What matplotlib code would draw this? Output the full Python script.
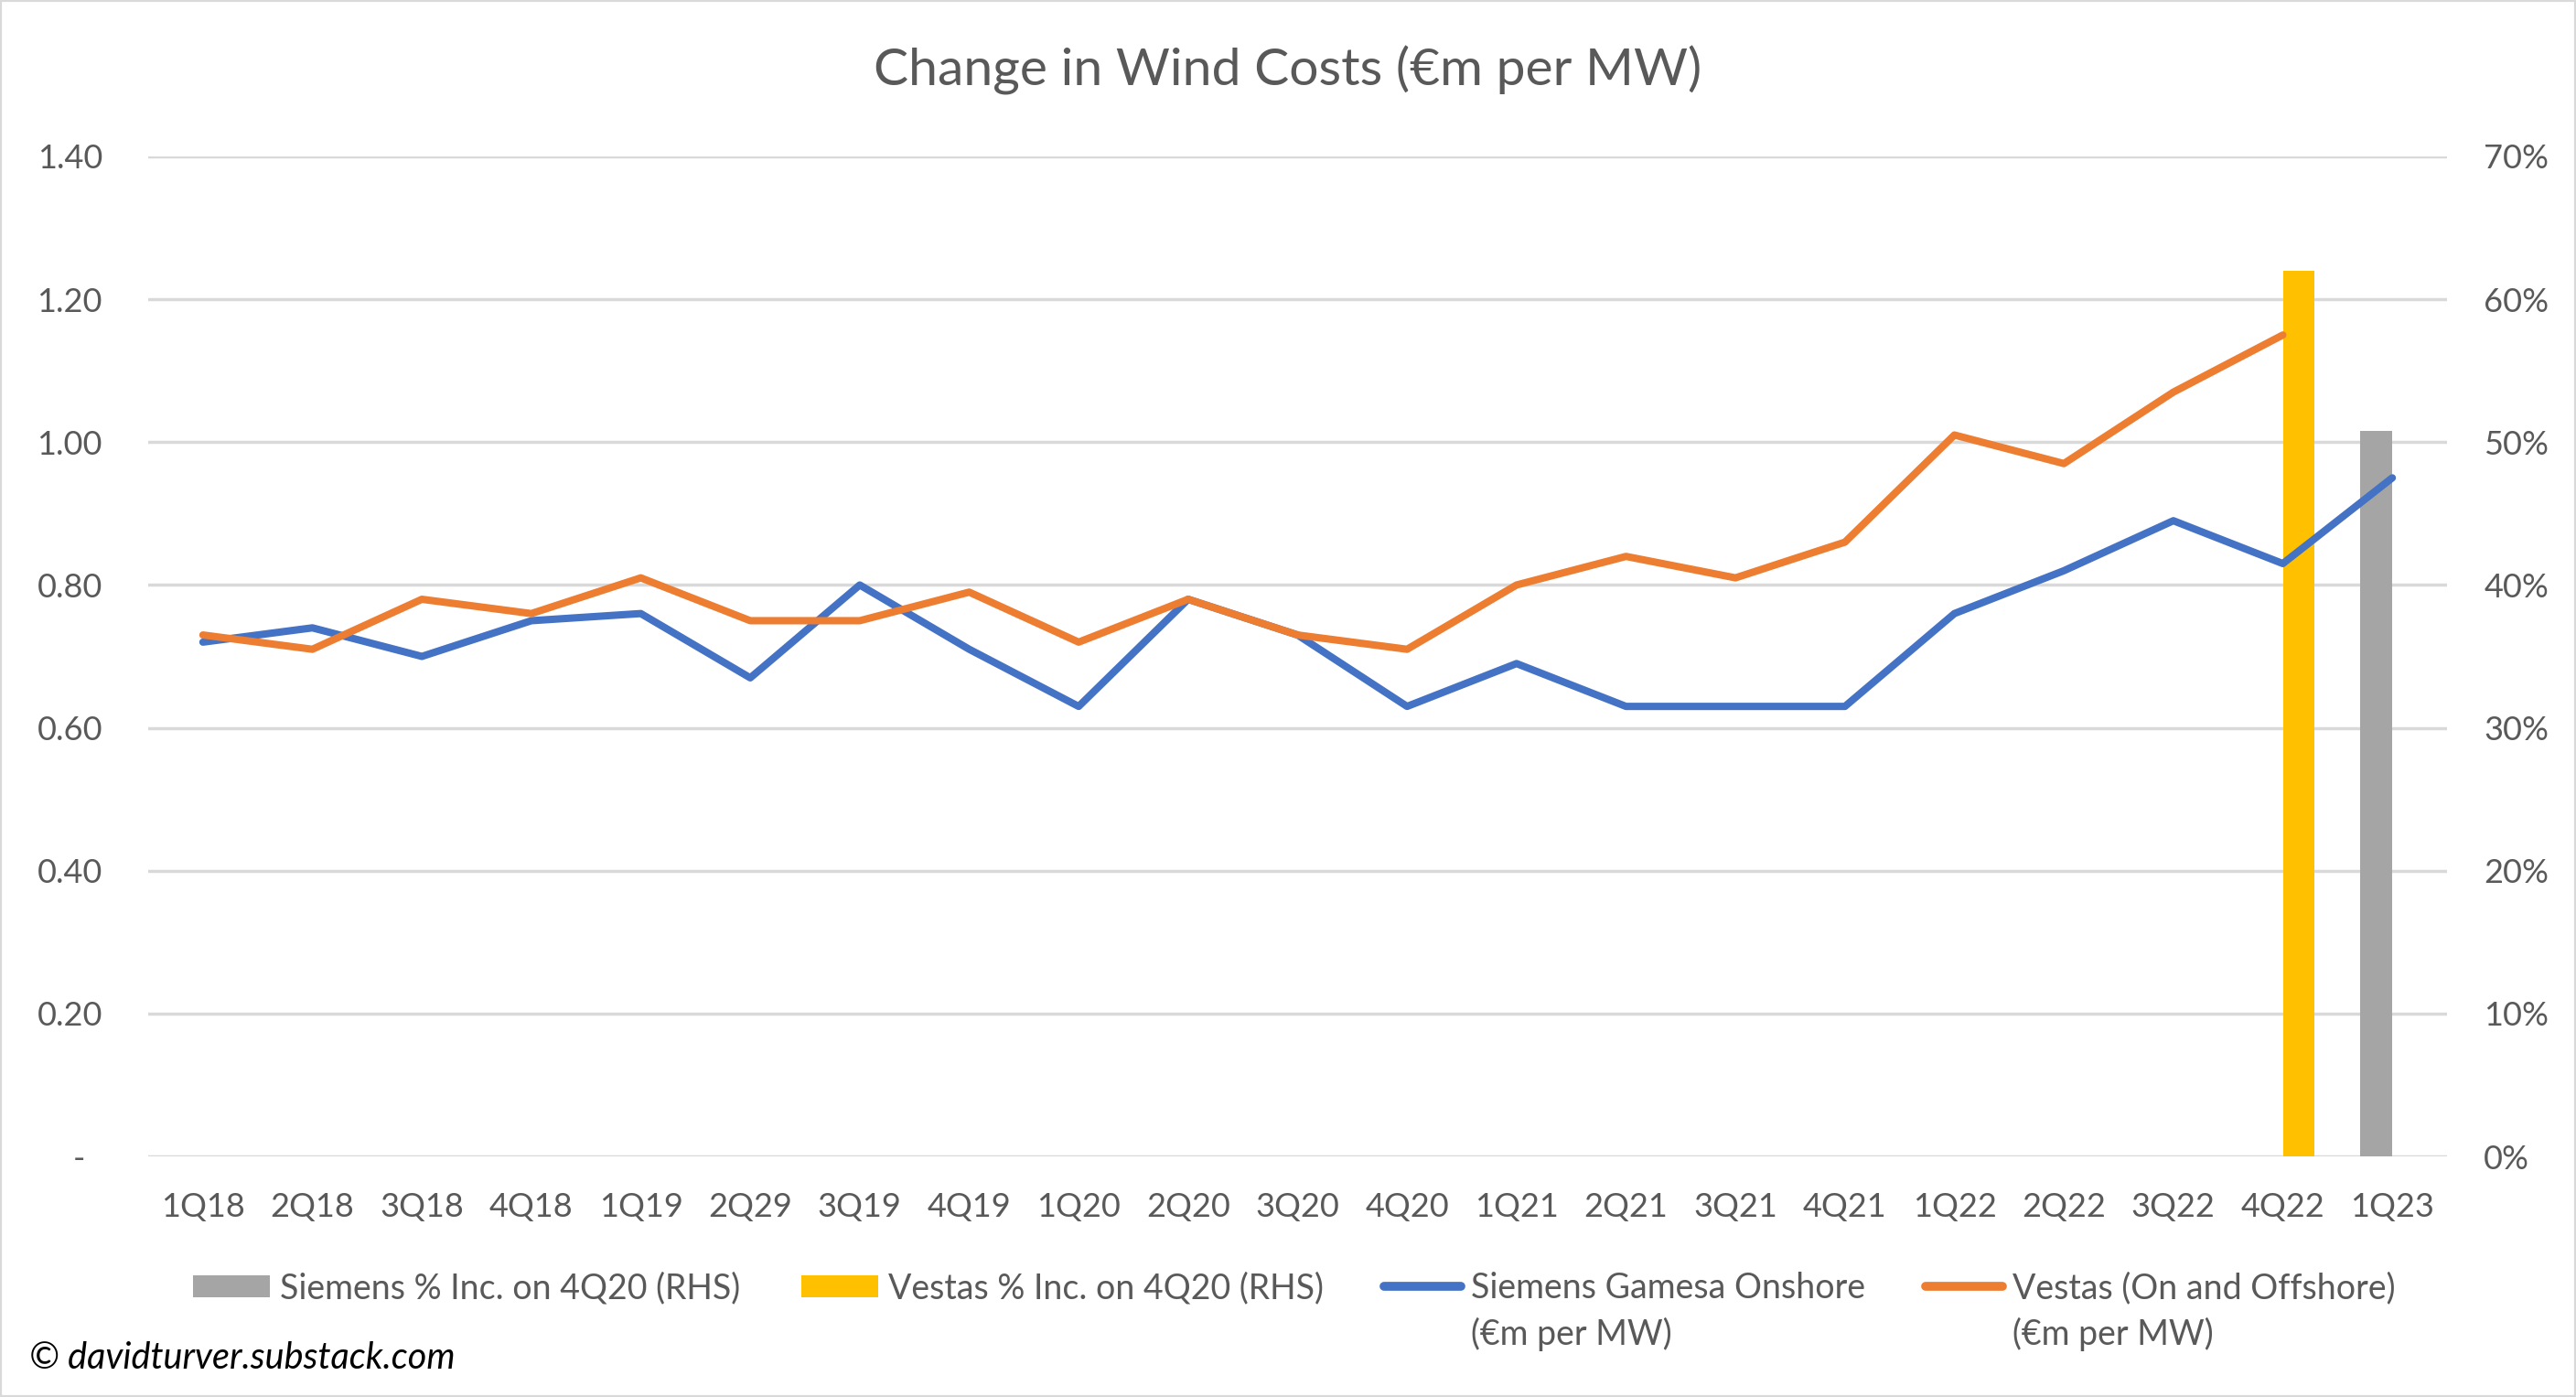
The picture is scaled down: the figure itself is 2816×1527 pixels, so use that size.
import matplotlib
matplotlib.use('Agg')
import matplotlib.pyplot as plt
import numpy as np
from matplotlib.patches import Patch, Rectangle
from matplotlib.lines import Line2D

nan = np.nan
quarters = ['1Q18', '2Q18', '3Q18', '4Q18', '1Q19', '2Q29', '3Q19', '4Q19', '1Q20', '2Q20',
            '3Q20', '4Q20', '1Q21', '2Q21', '3Q21', '4Q21', '1Q22', '2Q22', '3Q22', '4Q22', '1Q23']
siemens_cost = [0.72, 0.74, 0.70, 0.75, 0.76, 0.67, 0.80, 0.71, 0.63, 0.78,
                0.73, 0.63, 0.69, 0.63, 0.63, 0.63, 0.76, 0.82, 0.89, 0.83, 0.95]
vestas_cost = [0.73, 0.71, 0.78, 0.76, 0.81, 0.75, 0.75, 0.79, 0.72, 0.78,
               0.73, 0.71, 0.80, 0.84, 0.81, 0.86, 1.01, 0.97, 1.07, 1.15, nan]
siemens_pct = [nan] * 20 + [0.508]
vestas_pct = [nan] * 19 + [0.62, nan]

left_ticks = [0.0, 0.2, 0.4, 0.6, 0.8, 1.0, 1.2, 1.4]
right_ticks = [0.0, 0.1, 0.2, 0.3, 0.4, 0.5, 0.6, 0.7]

plt.rcParams['font.family'] = ['Lato', 'DejaVu Sans']
TXT = '#595959'
BLUE = '#4472C4'
ORANGE = '#ED7D31'
YELLOW = '#FFC000'
GREY = '#A5A5A5'

W, H = 2816, 1527
fig = plt.figure(figsize=(W / 100, H / 100), dpi=100)
ax = fig.add_axes([162 / W, 1 - 1264 / H, (2675 - 162) / W, (1264 - 171) / H])
ax2 = ax.twinx()
ax.set_zorder(2)
ax2.set_zorder(1)
ax.patch.set_visible(False)

x = np.arange(len(quarters))
bw = 0.29
ax2.bar(x - bw / 2, siemens_pct, bw, color=GREY, zorder=2)
ax2.bar(x + bw / 2, vestas_pct, bw, color=YELLOW, zorder=2)
ax2.set_axisbelow(True)
ax2.yaxis.grid(True, color='#D9D9D9', lw=2.5)

ax.plot(x, siemens_cost, color=BLUE, lw=5.8, solid_joinstyle='round', solid_capstyle='round')
ax.plot(x, vestas_cost, color=ORANGE, lw=5.8, solid_joinstyle='round', solid_capstyle='round')

ax.set_xlim(-0.5, len(quarters) - 0.5)
ax.set_ylim(0, 1.4)
ax2.set_ylim(0, 0.7)
ax.set_xticks(x)
ax.set_xticklabels(quarters)
ax.set_yticks(left_ticks)
ax.set_yticklabels(['-  ' if v == 0 else f'{v:.2f}' for v in left_ticks])
ax2.set_yticks(right_ticks)
ax2.set_yticklabels([f'{v * 100:.0f}%' for v in right_ticks])

for a in (ax, ax2):
    for s in a.spines.values():
        s.set_visible(False)
ax.tick_params(axis='x', length=0, labelsize=26, colors=TXT, pad=28)
ax.tick_params(axis='y', length=0, labelsize=26, colors=TXT, pad=36)
ax2.tick_params(axis='y', length=0, labelsize=26, colors=TXT, pad=29)

fig.text(0.5, 1 - 77 / H, 'Change in Wind Costs (€m per MW)', ha='center', va='center',
         fontsize=41, color=TXT)

handles = [Patch(facecolor=GREY, edgecolor='none'),
           Patch(facecolor=YELLOW, edgecolor='none'),
           Line2D([], [], color=BLUE, lw=7, solid_capstyle='round'),
           Line2D([], [], color=ORANGE, lw=7, solid_capstyle='round')]
labels = ['Siemens % Inc. on 4Q20 (RHS)', 'Vestas % Inc. on 4Q20 (RHS)',
          'Siemens Gamesa Onshore', 'Vestas (On and Offshore)']
leg = fig.legend(handles, labels, loc='center', bbox_to_anchor=(0.5025, 1 - 1408 / H),
                 ncol=4, frameon=False, fontsize=27, handlelength=2.24, handleheight=0.6,
                 handletextpad=0.3, columnspacing=1.76, labelcolor=TXT)

fig.text(32 / W, 1 - 1484 / H, '© davidturver.substack.com', style='italic', fontsize=28.5,
         color='black', va='center', ha='left')

fig.patches.append(Rectangle((0, 0), 1, 1, transform=fig.transFigure, fill=False,
                             edgecolor='#D9D9D9', lw=3))

fig.canvas.draw()
r = fig.canvas.get_renderer()
for idx in (2, 3):
    bb = leg.get_texts()[idx].get_window_extent(r)
    fig.text(bb.x0 / W, 1 - 1458 / H, '(€m per MW)', fontsize=27, color=TXT,
             ha='left', va='center')

fig.savefig('out.png', dpi=100)
